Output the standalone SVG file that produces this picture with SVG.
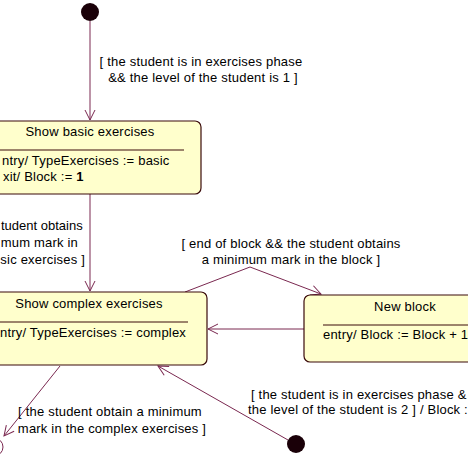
<svg xmlns="http://www.w3.org/2000/svg" width="468" height="468" viewBox="0 0 468 468">
<style>
.st{fill:#ffffcc;stroke:#3a0a0a;stroke-width:1.2}
.sep{stroke:#3a0a0a;stroke-width:1}
.t{font-family:"Liberation Sans",Arial,sans-serif;font-size:13px;letter-spacing:0.2px;fill:#000}
.c{text-anchor:middle}
.e{text-anchor:end}
.cn{fill:none;stroke:#7a2850;stroke-width:1}
.ini{fill:#1a0008}
</style>
<defs>
<marker id="arr" viewBox="0 0 12 12" refX="11" refY="6" markerWidth="12" markerHeight="12" markerUnits="userSpaceOnUse" orient="auto">
<path d="M1,1 L11,6 L1,11" fill="none" stroke="#7a2850" stroke-width="1"/>
</marker>
</defs>
<rect width="468" height="468" fill="#fff"/>
<g id="connectors">
<path class="cn" d="M90,21 L90,120" marker-end="url(#arr)"/>
<path class="cn" d="M90,194 L90,291" marker-end="url(#arr)"/>
<path class="cn" d="M185,292 L250,267 L321,294" marker-end="url(#arr)"/>
<path class="cn" d="M304,329 L208,329" marker-end="url(#arr)"/>
<path class="cn" d="M60,366 L4,436" marker-end="url(#arr)"/>
<path class="cn" d="M288,440 L158,366" marker-end="url(#arr)"/>
<text class="t c" x="201" y="66">[ the student is in exercises phase</text>
<text class="t c" x="203" y="82">&amp;&amp; the level of the student is 1 ]</text>
<text class="t" x="1" y="230" style="letter-spacing:0">tudent obtains</text>
<text class="t e" x="78" y="247">mum mark in</text>
<text class="t e" x="85" y="264">sic exercises ]</text>
<text class="t c" x="291" y="248">[ end of block &amp;&amp; the student obtains</text>
<text class="t c" x="291" y="264">a minimum mark in the block ]</text>
<text class="t c" x="110" y="416">[ the student obtain a minimum</text>
<text class="t c" x="112" y="433">mark in the complex exercises ]</text>
<text class="t" x="251" y="399">[ the student is in exercises phase &amp;</text>
<text class="t" x="248" y="414">the level of the student is 2 ] / Block :</text>
</g>
<g id="initial1"><circle class="ini" cx="90" cy="12" r="9"/></g>
<g id="initial2"><circle class="ini" cx="296" cy="444" r="9"/></g>
<g id="final"><circle cx="-6" cy="447" r="9" fill="none" stroke="#7a2850" stroke-width="1"/><circle class="ini" cx="-6" cy="447" r="5"/></g>
<g id="basic">
<rect class="st" x="-21" y="121" width="222" height="73" rx="6"/>
<text class="t c" x="90" y="136">Show basic exercises</text>
<line class="sep" x1="-4" y1="150" x2="184" y2="150"/>
<text class="t" x="2" y="165">ntry/ TypeExercises := basic</text>
<text class="t" x="3" y="181">xit/ Block := <tspan font-weight="bold">1</tspan></text>
</g>
<g id="complex">
<rect class="st" x="-27" y="292" width="234" height="73" rx="6"/>
<text class="t c" x="89" y="308">Show complex exercises</text>
<line class="sep" x1="-8" y1="322" x2="188" y2="322"/>
<text class="t" x="0" y="337">ntry/ TypeExercises := complex</text>
</g>
<g id="newblock">
<rect class="st" x="304" y="295" width="202" height="67" rx="6"/>
<text class="t c" x="405" y="311">New block</text>
<line class="sep" x1="323" y1="325" x2="490" y2="325"/>
<text class="t" x="323" y="339">entry/ Block := Block + 1</text>
</g>
</svg>
